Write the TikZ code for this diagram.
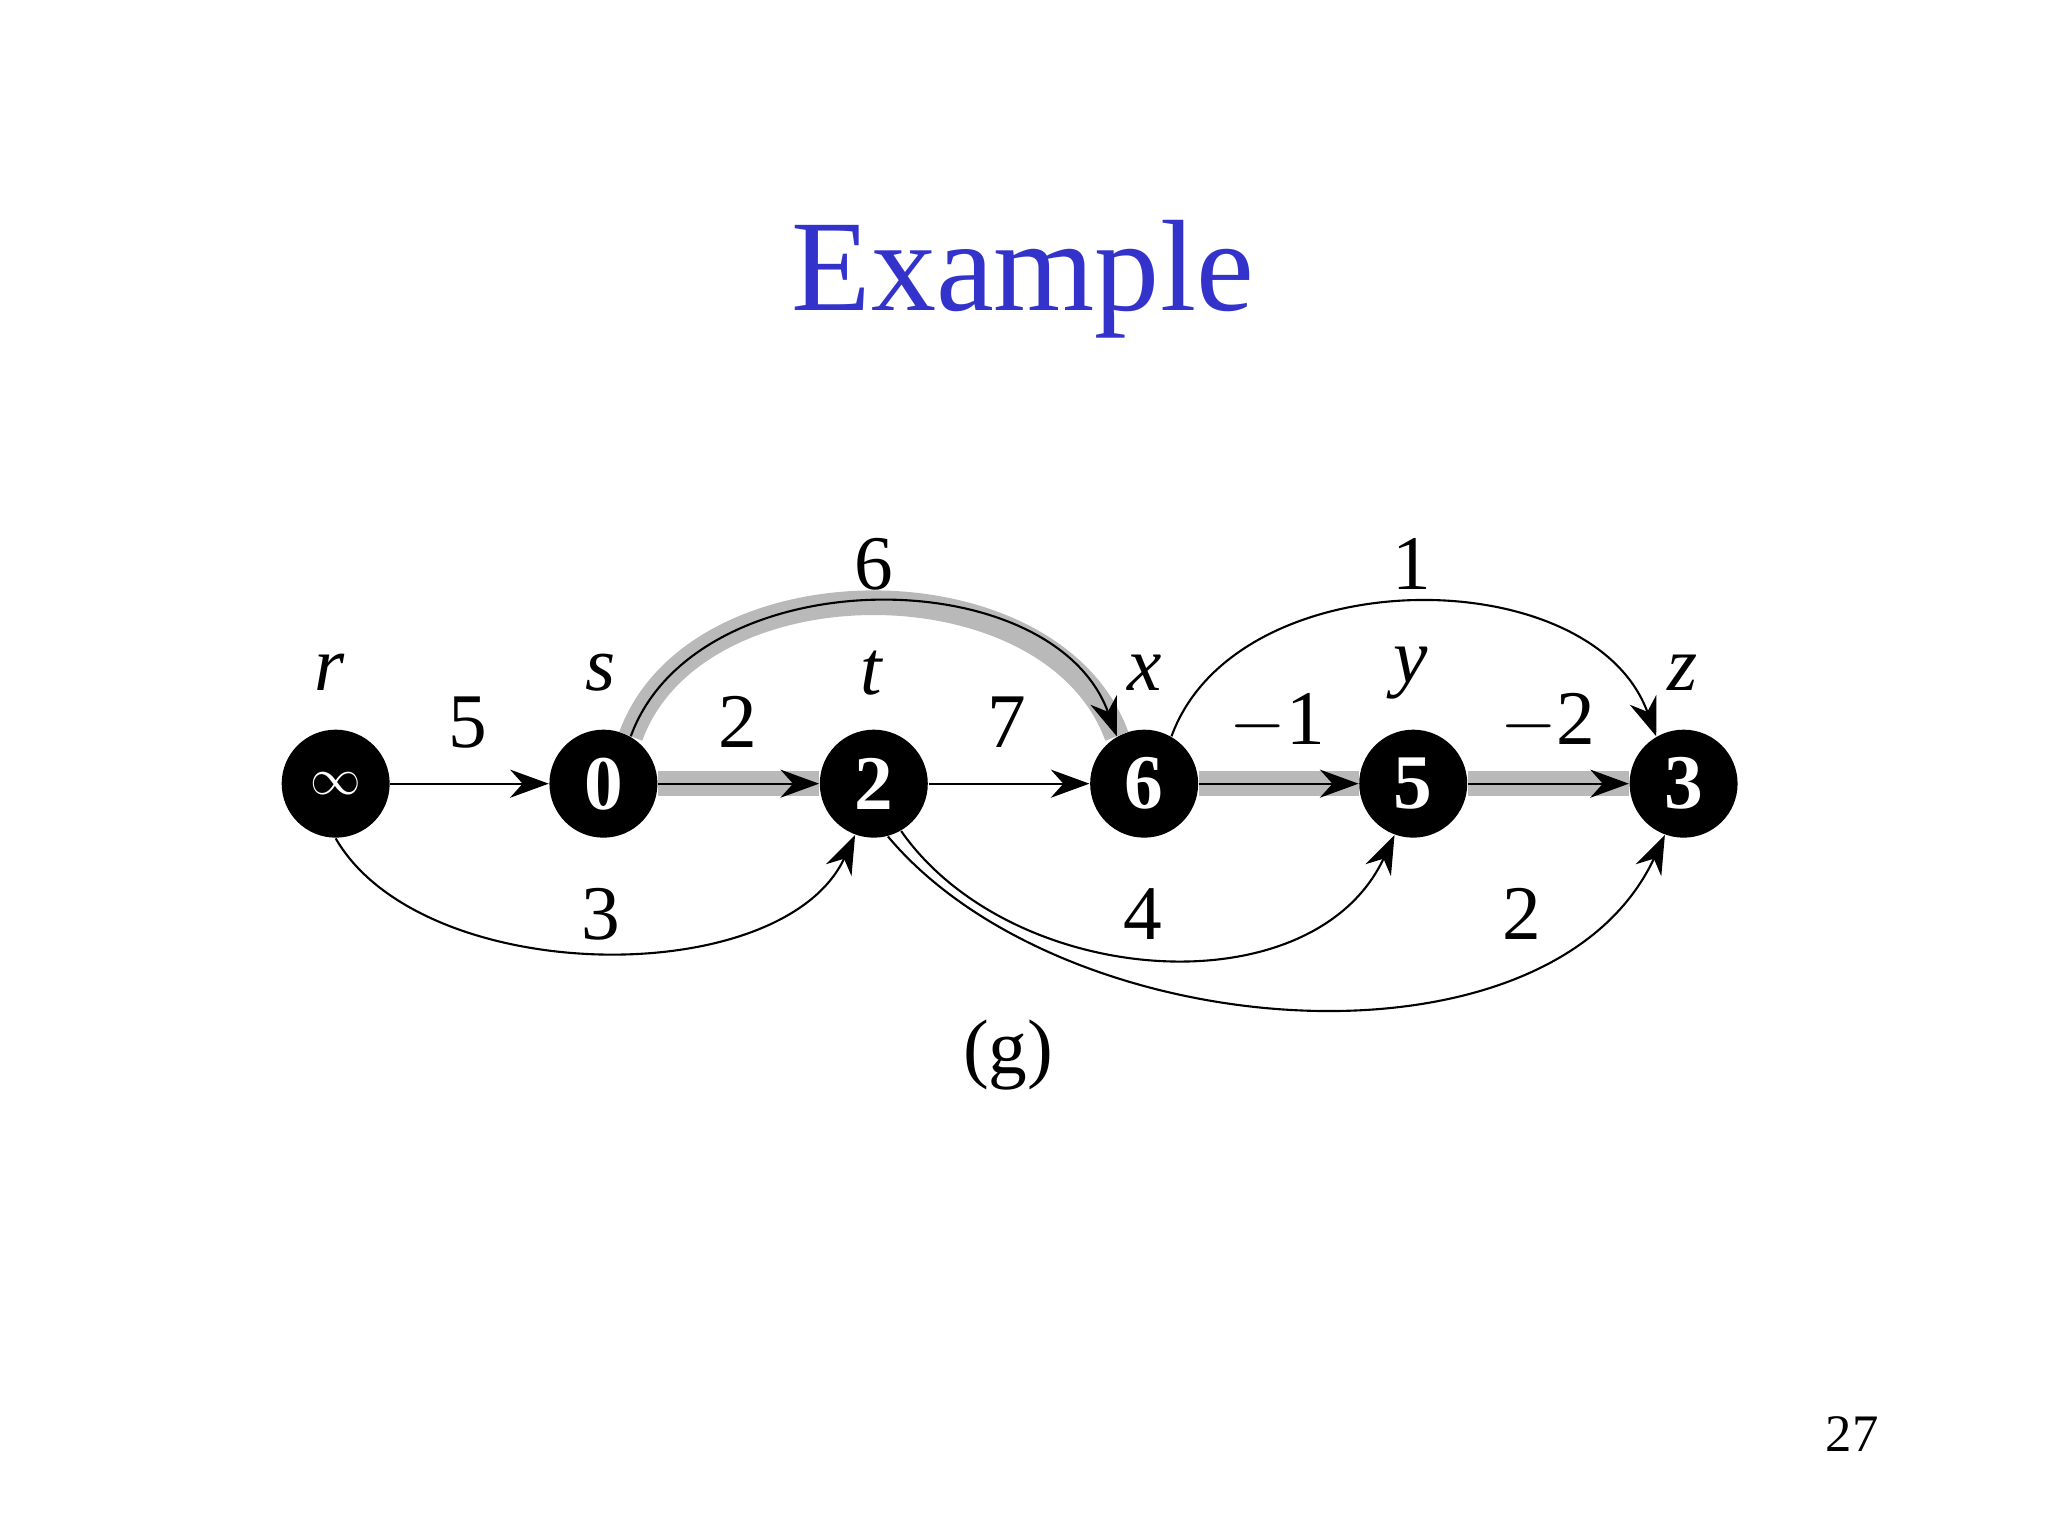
\documentclass[tikz,border=0pt]{standalone}
\usepackage{fontspec}
\setmainfont{Liberation Serif}
\usetikzlibrary{arrows.meta}
\definecolor{titleblue}{RGB}{51,51,204}
\begin{document}
\begin{tikzpicture}[x=0.01306cm,y=-0.01306cm,
  vtx/.style={circle,fill=black,minimum size=1.08cm,inner sep=0pt,text=white,font=\fontsize{22}{22}\selectfont\bfseries},
  lbl/.style={font=\fontsize{22}{22}\selectfont\itshape},
  wt/.style={font=\fontsize{22}{22}\selectfont},
  arr/.style={-{Stealth[length=11pt,width=8pt]},line width=0.6pt},
  hl/.style={line width=7pt,gray!55}]
\useasboundingbox[fill=white] (0,0) rectangle (1568,1176);
\node[font=\fontsize{37}{37}\selectfont,text=titleblue] (title) at (783,214) {Example};
\node[vtx] (r) at (257,600) {\fontsize{14}{14}\selectfont$\infty$};
\node[vtx] (s) at (462,600) {0};
\node[vtx] (t) at (669,600) {2};
\node[vtx] (x) at (876,600) {6};
\node[vtx] (y) at (1082,600) {5};
\node[vtx] (z) at (1289,600) {3};
\node[lbl] (lr) at (252,515) {r};
\node[lbl] (ls) at (460,515) {s};
\node[lbl] (lt) at (667,515) {t};
\node[lbl] (lx) at (876,515) {x};
\node[lbl] (ly) at (1080,515) {y};
\node[lbl] (lz) at (1288,515) {z};
% highlighted
\draw[hl] (s) -- (t);
\draw[hl] (x) -- (y);
\draw[hl] (y) -- (z);
\draw[hl] (s.60) to[out=70,in=110,looseness=1.0] (x.120);
\draw[arr] (r) -- (s);
\draw[arr] (s) -- (t);
\draw[arr] (t) -- (x);
\draw[arr] (x) -- (y);
\draw[arr] (y) -- (z);
\draw[arr] (s.60) to[out=70,in=110,looseness=1.0] (x.120);
\draw[arr] (x.60) to[out=70,in=110,looseness=1.0] (z.120);
\draw[arr] (r.-90) to[out=-60,in=-115,looseness=0.85] (t.-110);
\draw[arr] (t.-60) to[out=-55,in=-115,looseness=1.0] (y.-110);
\draw[arr] (t.-75) to[out=-50,in=-115,looseness=0.9] (z.-110);
\node[wt] (w1) at (358,553) {5};
\node[wt] (w2) at (565,553) {2};
\node[wt] (w3) at (771,553) {7};
\node[wt] (w4) at (978,553) {$-$1};
\node[wt] (w5) at (1185,553) {$-$2};
\node[wt] (w6) at (669,432) {6};
\node[wt] (w7) at (1081,432) {1};
\node[wt] (w8) at (460,700) {3};
\node[wt] (w9) at (875,700) {4};
\node[wt] (w10) at (1165,700) {2};
\node[wt] (cap) at (772,808) {(g)};
\node[font=\fontsize{15}{15}\selectfont] (pg) at (1418,1098) {27};
\end{tikzpicture}
\end{document}
